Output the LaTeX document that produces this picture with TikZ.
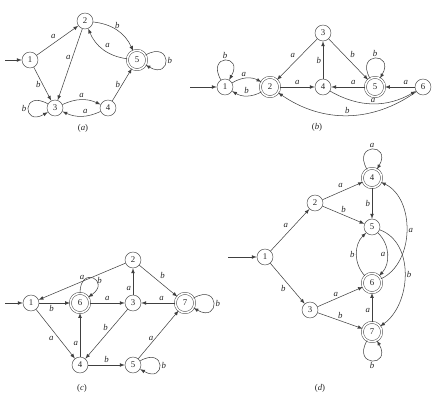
\documentclass[tikz,border=0pt]{standalone}
\usepackage{fontspec}
\setmainfont{Liberation Serif}
\usetikzlibrary{arrows, positioning}

\begin{document}
\begin{tikzpicture}[
    x=0.03cm, y=0.03cm,
    >=latex,
    every node/.style={text=black!85},
    state/.style={circle, draw=black!75, minimum size=0.48cm, inner sep=0pt, font=\fontsize{7.5}{9}\selectfont},
    accept/.style={state, double, double distance=1.4pt, minimum size=0.58cm},
    arrow/.style={->, draw=black!75, line width=0.45pt},
    lbl/.style={font=\fontsize{7.5}{9}\selectfont\itshape, inner sep=1.5pt},
    caption/.style={font=\fontsize{7.5}{9}\selectfont},
    every loop/.style={min distance=9mm},
    lpabove/.style={out=120, in=60, loop},
    lpbelow/.style={out=-120, in=-60, loop},
    lpright/.style={out=30, in=-30, loop},
    lpleft/.style={out=150, in=-150, loop}
]

\useasboundingbox (0,0) rectangle (443,-401);

\node[state] (a1) at (30,-60) {1};
\node[state] (a2) at (85,-21) {2};
\node[state] (a3) at (55,-108) {3};
\node[state] (a4) at (108,-108) {4};
\node[accept] (a5) at (137,-60) {5};
\coordinate (a0) at (5,-60);
\node[caption] (capa) at (83,-128) {(\textit{a})};

\draw[arrow] (a0) -- (a1);
\draw[arrow] (a1) -- node[lbl, above left] {a} (a2);
\draw[arrow] (a1) -- node[lbl, left] {b} (a3);
\draw[arrow] (a2) -- node[lbl, left, pos=0.4] {a} (a3);
\draw[arrow] (a2) to[bend left=30] node[lbl, above] {b} (a5);
\draw[arrow] (a5) to[bend left=30] node[lbl, above right] {a} (a2);
\draw[arrow] (a5) to[lpright] node[lbl, right] {b} (a5);
\draw[arrow] (a3) to[bend left=25] node[lbl, above] {a} (a4);
\draw[arrow] (a4) to[bend left=25] node[lbl, above, pos=0.4] {a} (a3);
\draw[arrow] (a3) to[lpleft] node[lbl, left] {b} (a3);
\draw[arrow] (a4) -- node[lbl, left] {b} (a5);

\node[state] (b1) at (225,-87) {1};
\node[accept] (b2) at (270,-87) {2};
\node[state] (b3) at (323,-33) {3};
\node[state] (b4) at (323,-87) {4};
\node[accept] (b5) at (375,-87) {5};
\node[state] (b6) at (423,-87) {6};
\coordinate (b0) at (190,-87);
\node[caption] (capb) at (317,-127) {(\textit{b})};

\draw[arrow] (b0) -- (b1);
\draw[arrow] (b1) to[lpabove] node[lbl, above] {b} (b1);
\draw[arrow] (b1) to[bend left=30] node[lbl, above, pos=0.4] {a} (b2);
\draw[arrow] (b2) to[bend left=30] node[lbl, above] {b} (b1);
\draw[arrow] (b3) -- node[lbl, above left] {a} (b2);
\draw[arrow] (b3) -- node[lbl, above right] {b} (b5);
\draw[arrow] (b4) -- node[lbl, left] {b} (b3);
\draw[arrow] (b2) -- node[lbl, above] {a} (b4);
\draw[arrow] (b5) -- node[lbl, above, pos=0.35] {a} (b4);
\draw[arrow] (b5) to[lpabove] node[lbl, above] {b} (b5);
\draw[arrow] (b6) -- node[lbl, above, pos=0.3] {a} (b5);
\draw[arrow] (b4) to[bend right=30] node[lbl, above, inner sep=0.5pt] {a} (b6);
\draw[arrow] (b6) to[bend left=35] node[lbl, above] {b} (b2);

\node[state] (c1) at (31,-303) {1};
\node[state] (c2) at (133,-260) {2};
\node[state] (c3) at (133,-303) {3};
\node[state] (c4) at (80,-365) {4};
\node[state] (c5) at (133,-365) {5};
\node[accept] (c6) at (80,-303) {6};
\node[accept] (c7) at (185,-303) {7};
\coordinate (c0) at (5,-303);
\node[caption] (capc) at (82,-388) {(\textit{c})};

\draw[arrow] (c0) -- (c1);
\draw[arrow] (c2) -- node[lbl, above] {a} (c1);
\draw[arrow] (c2) -- node[lbl, above right] {b} (c7);
\draw[arrow] (c1) -- node[lbl, below, pos=0.4] {b} (c6);
\draw[arrow] (c6) to[out=90, in=35, loop, every loop/.style={min distance=6mm}] node[lbl, right, pos=0.6] {b} (c6);
\draw[arrow] (c6) -- node[lbl, above] {a} (c3);
\draw[arrow] (c3) -- node[lbl, left, pos=0.25] {a} (c2);
\draw[arrow] (c7) -- node[lbl, above, pos=0.4] {a} (c3);
\draw[arrow] (c7) to[lpright] node[lbl, right] {b} (c7);
\draw[arrow] (c1) -- node[lbl, below left] {a} (c4);
\draw[arrow] (c4) -- node[lbl, left, pos=0.3] {a} (c6);
\draw[arrow] (c3) -- node[lbl, above left, pos=0.45, inner sep=0.5pt] {b} (c4);
\draw[arrow] (c4) -- node[lbl, above] {b} (c5);
\draw[arrow] (c5) to[lpright] node[lbl, right] {b} (c5);
\draw[arrow] (c5) -- node[lbl, left, pos=0.42] {a} (c7);

\node[state] (d1) at (265,-257) {1};
\node[state] (d2) at (315,-203) {2};
\node[state] (d3) at (310,-310) {3};
\node[accept] (d4) at (372,-178) {4};
\node[state] (d5) at (372,-227) {5};
\node[accept] (d6) at (372,-283) {6};
\node[accept] (d7) at (372,-332) {7};
\coordinate (d0) at (228,-257);
\node[caption] (capd) at (320,-388) {(\textit{d})};

\draw[arrow] (d0) -- (d1);
\draw[arrow] (d4) to[lpabove] node[lbl, above] {a} (d4);
\draw[arrow] (d1) -- node[lbl, above left] {a} (d2);
\draw[arrow] (d1) -- node[lbl, below left] {b} (d3);
\draw[arrow] (d2) -- node[lbl, above left, pos=0.55] {a} (d4);
\draw[arrow] (d2) -- node[lbl, above] {b} (d5);
\draw[arrow] (d4) -- node[lbl, left] {b} (d5);
\draw[arrow] (d5) to[bend left=45] node[lbl, left] {a} (d6);
\draw[arrow] (d6) to[bend left=45] node[lbl, left] {b} (d5);
\draw[arrow] (d6) to[out=25, in=-25] node[lbl, right] {a} (d4);
\draw[arrow] (d5) to[out=-20, in=35] node[lbl, right] {b} (d7);
\draw[arrow] (d3) -- node[lbl, above, pos=0.4] {a} (d6);
\draw[arrow] (d3) -- node[lbl, above] {b} (d7);
\draw[arrow] (d7) -- node[lbl, left, pos=0.4] {a} (d6);
\draw[arrow] (d7) to[lpbelow] node[lbl, below] {b} (d7);

\end{tikzpicture}
\end{document}
